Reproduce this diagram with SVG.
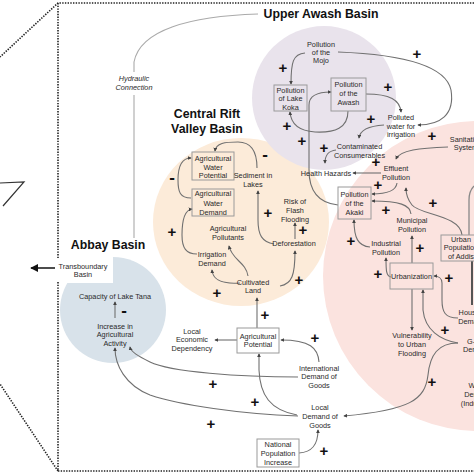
<svg xmlns="http://www.w3.org/2000/svg" width="474" height="474" viewBox="0 0 474 474">
<defs>
<style>
.t{font-family:"Liberation Sans",Arial,sans-serif;font-size:7.3px;fill:#2a2a2a;text-anchor:middle}
.ti{font-family:"Liberation Sans",Arial,sans-serif;font-size:7.3px;fill:#2a2a2a;text-anchor:middle;font-style:italic}
.h{font-family:"Liberation Sans",Arial,sans-serif;font-size:12.3px;font-weight:bold;fill:#111;text-anchor:middle}
.p{font-family:"Liberation Sans",Arial,sans-serif;font-size:15px;font-weight:bold;fill:#111;text-anchor:middle}
.m{font-family:"Liberation Sans",Arial,sans-serif;font-size:17px;font-weight:bold;fill:#111;text-anchor:middle}
.c{fill:none;stroke:#707070;stroke-width:1.1;marker-end:url(#a)}
.b{fill:none;stroke:#9a9a9a;stroke-width:1}
.f{fill:none;stroke:#222;stroke-width:1.6;stroke-dasharray:1.4 1.3}
</style>
<marker id="a" viewBox="0 0 6 6" refX="5" refY="3" markerWidth="4" markerHeight="4" orient="auto" markerUnits="userSpaceOnUse">
<path d="M0,0 L6,3 L0,6 z" fill="#444"/>
</marker>
<marker id="big" viewBox="0 0 10 10" refX="9" refY="5" markerWidth="8" markerHeight="8" orient="auto" markerUnits="userSpaceOnUse">
<path d="M0,0 L10,5 L0,10 z" fill="#111"/>
</marker>
</defs>
<rect width="474" height="474" fill="#fff"/>
<g id="basins">
<circle cx="478" cy="276" r="155" fill="#fbe3df"/>
<ellipse cx="241" cy="222" rx="88" ry="84" fill="#fcebd9"/>
<circle cx="324" cy="98" r="72" fill="#e9e3ec"/>
<circle cx="113" cy="310" r="53" fill="#d8e2ea"/>
<rect x="58" y="250" width="55" height="33" fill="#fff"/>
</g>
<g id="frame">
<path class="f" d="M474,3 L58,3 L0,57 M58,3 L58,258 M58,282 L58,471 L474,471 M58,471 L0,384"/>
<path d="M0,183 L24,182 L3,206" fill="none" stroke="#333" stroke-width="1.2"/>
</g>
<g id="titles">
<text class="h" x="321" y="18">Upper Awash Basin</text>
<text class="h" x="207" y="118">Central Rift</text>
<text class="h" x="207" y="133">Valley Basin</text>
<text class="h" x="108" y="249">Abbay Basin</text>
</g>
<g id="connectors">
<path d="M258,14 C190,16 140,30 134,62 L134,72 M134,95 L134,238" fill="none" stroke="#aaa" stroke-width="1.1"/>
<text class="ti" x="134" y="81">Hydraulic</text>
<text class="ti" x="134" y="90">Connection</text>
<path d="M55,268 L31,268" fill="none" stroke="#111" stroke-width="1.5" marker-end="url(#big)"/>
<path class="c" d="M305,53 C293,54 291,62 291,84"/>
<path class="c" d="M338,52 C390,54 445,62 451,90 C455,115 440,125 418,125"/>
<path class="c" d="M366,94 C390,94 400,100 401,112"/>
<path class="c" d="M348,111 C348,128 335,133 315,132 C300,131 291,125 290,112"/>
<path class="c" d="M338,205 C318,203 309,190 309,170 L309,105 C309,95 318,92 331,92"/>
<path class="c" d="M336,150 C328,151 325,155 325,163"/>
<path class="c" d="M384,125 C368,126 360,130 359,138"/>
<path class="c" d="M448,147 C420,148 400,150 396,159"/>
<path class="c" d="M381,173 L353,173"/>
<path class="c" d="M397,183 C396,191 385,194 372,194"/>
<path class="c" d="M462,235 C460,215 420,215 412,205 C408,200 406,195 406,188"/>
<path class="c" d="M411,214 C410,205 400,201 372,201"/>
<path class="c" d="M370,247 C358,246 354,238 354,220"/>
<path class="c" d="M412,263 L412,236"/>
<path class="c" d="M412,289 L412,330"/>
<path class="c" d="M391,277 C386,276 386,270 386,258"/>
<path class="c" d="M458,318 C445,318 442,312 442,300 L442,283 C442,278 438,276 434,276"/>
<path class="c" d="M458,343 C440,340 425,330 423,310 L423,290"/>
<path class="c" d="M458,343 C438,343 430,355 428,375 C425,400 410,410 344,416"/>
<path d="M474,186 C470,190 469,195 469,200 L469,235" fill="none" stroke="#888" stroke-width="1.3"/>
<path d="M472,261 L472,305" fill="none" stroke="#555" stroke-width="2"/>
<path class="c" d="M257,168 C257,150 250,142 238,142 C225,142 216,143 215,151"/>
<path class="c" d="M191,198 C180,198 178,192 178,180 C178,165 182,158 191,158"/>
<path class="c" d="M197,254 C186,254 182,248 182,235 C182,220 185,210 192,209"/>
<path class="c" d="M240,283 C225,284 213,282 212,270"/>
<path class="c" d="M248,276 C246,262 232,260 229,246"/>
<path class="c" d="M280,286 C292,284 295,275 295,251"/>
<path class="c" d="M295,239 L295,223"/>
<path class="c" d="M274,244 C262,242 258,235 258,220 L258,191"/>
<path class="c" d="M257,328 L257,298"/>
<path class="c" d="M237,340 L215,340"/>
<path class="c" d="M319,362 C318,348 310,340 281,340"/>
<path class="c" d="M298,377 C240,377 170,372 150,362 C138,356 131,352 130,347"/>
<path class="c" d="M298,416 C240,414 180,405 150,395 C125,385 115,365 115,348"/>
<path class="c" d="M297,415 C270,410 260,395 259,370 L259,354"/>
<path class="c" d="M299,453 C312,452 318,445 318,430"/>
<path class="c" d="M115,318 L115,302"/>
</g>
<g id="signs">
<text class="p" x="283" y="73">+</text>
<text class="p" x="287" y="131">+</text>
<text class="p" x="302" y="146">+</text>
<text class="p" x="417" y="59">+</text>
<text class="p" x="388" y="92">+</text>
<text class="p" x="371" y="124">+</text>
<text class="p" x="432" y="141">+</text>
<text class="p" x="324" y="153">+</text>
<text class="p" x="376" y="167">+</text>
<text class="p" x="378" y="190">+</text>
<text class="p" x="386" y="215">+</text>
<text class="p" x="433" y="208">+</text>
<text class="p" x="351" y="246">+</text>
<text class="p" x="420" y="253">+</text>
<text class="p" x="378" y="279">+</text>
<text class="p" x="449" y="283">+</text>
<text class="p" x="445" y="335">+</text>
<text class="p" x="432" y="387">+</text>
<text class="p" x="315" y="343">+</text>
<text class="p" x="265" y="320">+</text>
<text class="p" x="213" y="389">+</text>
<text class="p" x="255" y="407">+</text>
<text class="p" x="211" y="429">+</text>
<text class="p" x="324" y="456">+</text>
<text class="p" x="268" y="218">+</text>
<text class="p" x="303" y="235">+</text>
<text class="p" x="172" y="237">+</text>
<text class="p" x="299" y="285">+</text>
<text class="p" x="217" y="298">+</text>
<text class="m" x="265" y="160">-</text>
<text class="m" x="172" y="183">-</text>
<text class="m" x="124" y="316">-</text>
</g>
<g id="n-mojo"><text class="t" x="321" y="47">Pollution</text><text class="t" x="321" y="55">of the</text><text class="t" x="321" y="63">Mojo</text></g>
<g id="n-koka"><rect class="b" x="274" y="85" width="33" height="26"/><text class="t" x="290.5" y="92.5">Pollution</text><text class="t" x="290.5" y="101">of Lake</text><text class="t" x="290.5" y="109.5">Koka</text></g>
<g id="n-awash"><rect class="b" x="331" y="78" width="35" height="33"/><text class="t" x="348.5" y="87">Pollution</text><text class="t" x="348.5" y="96">of the</text><text class="t" x="348.5" y="105">Awash</text></g>
<g id="n-polluted"><text class="t" x="401" y="120">Polluted</text><text class="t" x="401" y="129">water for</text><text class="t" x="401" y="137">irrigation</text></g>
<g id="n-contam"><text class="t" x="359.5" y="148.5">Contaminated</text><text class="t" x="359.5" y="157.5">Consumerables</text></g>
<g id="n-health"><text class="t" x="326" y="175.5">Health Hazards</text></g>
<g id="n-effluent"><text class="t" x="396" y="170.5">Effluent</text><text class="t" x="396" y="179.5">Pollution</text></g>
<g id="n-sanitation"><text class="t" x="466" y="142">Sanitation</text><text class="t" x="466" y="150">System</text></g>
<g id="n-akaki"><rect class="b" x="338" y="187" width="33" height="32"/><text class="t" x="354.5" y="196.5">Pollution</text><text class="t" x="354.5" y="205.5">of the</text><text class="t" x="354.5" y="214.5">Akaki</text></g>
<g id="n-municipal"><text class="t" x="412" y="222.5">Municipal</text><text class="t" x="412" y="231.5">Pollution</text></g>
<g id="n-industrial"><text class="t" x="386" y="245.5">Industrial</text><text class="t" x="386" y="254.5">Pollution</text></g>
<g id="n-urbanization"><rect class="b" x="390" y="263" width="43" height="26"/><text class="t" x="411.5" y="278.5">Urbanization</text></g>
<g id="n-urbanpop"><rect class="b" x="441" y="235" width="40" height="26"/><text class="t" x="461" y="241.5">Urban</text><text class="t" x="461" y="250">Population</text><text class="t" x="461" y="258.5">of Addis</text></g>
<g id="n-housing"><text class="t" x="472" y="314.5">Housing</text><text class="t" x="472" y="323.5">Demand</text></g>
<g id="n-gw"><text class="t" x="467" y="343.5" style="text-anchor:start">G-W</text><text class="t" x="463" y="351.5" style="text-anchor:start">Demand</text></g>
<g id="n-water"><text class="t" x="478" y="387.5">Water</text><text class="t" x="478" y="396.5">Demand</text><text class="t" x="478" y="405.5">(Industrial)</text></g>
<g id="n-vulnerability"><text class="t" x="412" y="337.5">Vulnerability</text><text class="t" x="412" y="346.5">to Urban</text><text class="t" x="412" y="355.5">Flooding</text></g>
<g id="n-awp"><rect class="b" x="192" y="152" width="42" height="28"/><text class="t" x="213" y="160.5">Agricultural</text><text class="t" x="213" y="169.5">Water</text><text class="t" x="213" y="177.5">Potential</text></g>
<g id="n-awd"><rect class="b" x="192" y="189" width="42" height="27"/><text class="t" x="213" y="196">Agricultural</text><text class="t" x="213" y="205.5">Water</text><text class="t" x="213" y="214.5">Demand</text></g>
<g id="n-sediment"><text class="t" x="253" y="178">Sediment in</text><text class="t" x="253" y="187">Lakes</text></g>
<g id="n-risk"><text class="t" x="295" y="203.5">Risk of</text><text class="t" x="295" y="212.5">Flash</text><text class="t" x="295" y="221.5">Flooding</text></g>
<g id="n-agpoll"><text class="t" x="228" y="230.5">Agricultural</text><text class="t" x="228" y="239.5">Pollutants</text></g>
<g id="n-deforest"><text class="t" x="294" y="245.5">Deforestation</text></g>
<g id="n-irrigation"><text class="t" x="212" y="256.5">Irrigation</text><text class="t" x="212" y="265.5">Demand</text></g>
<g id="n-cultivated"><text class="t" x="253" y="284.5">Cultivated</text><text class="t" x="253" y="293">Land</text></g>
<g id="n-tana"><text class="t" x="115" y="298.5">Capacity of Lake Tana</text></g>
<g id="n-increase"><text class="t" x="115" y="328.5">Increase in</text><text class="t" x="115" y="337">Agricultural</text><text class="t" x="115" y="345.5">Activity</text></g>
<g id="n-transboundary"><text class="t" x="83" y="268.5">Transboundary</text><text class="t" x="83" y="276.5">Basin</text></g>
<g id="n-agpot"><rect class="b" x="237" y="328" width="42" height="25" fill="#fff"/><text class="t" x="258" y="338.5">Agricultural</text><text class="t" x="258" y="347">Potential</text></g>
<g id="n-localecon"><text class="t" x="192" y="333.5">Local</text><text class="t" x="192" y="342">Economic</text><text class="t" x="192" y="350.5">Dependency</text></g>
<g id="n-intl"><text class="t" x="319" y="370.5">International</text><text class="t" x="319" y="379">Demand of</text><text class="t" x="319" y="387.5">Goods</text></g>
<g id="n-localdemand"><text class="t" x="320" y="409.5">Local</text><text class="t" x="320" y="418.5">Demand of</text><text class="t" x="320" y="427.5">Goods</text></g>
<g id="n-national"><rect class="b" x="257" y="439" width="42" height="28" fill="#fff"/><text class="t" x="278" y="446.5">National</text><text class="t" x="278" y="455.5">Population</text><text class="t" x="278" y="464.5">Increase</text></g>
</svg>
